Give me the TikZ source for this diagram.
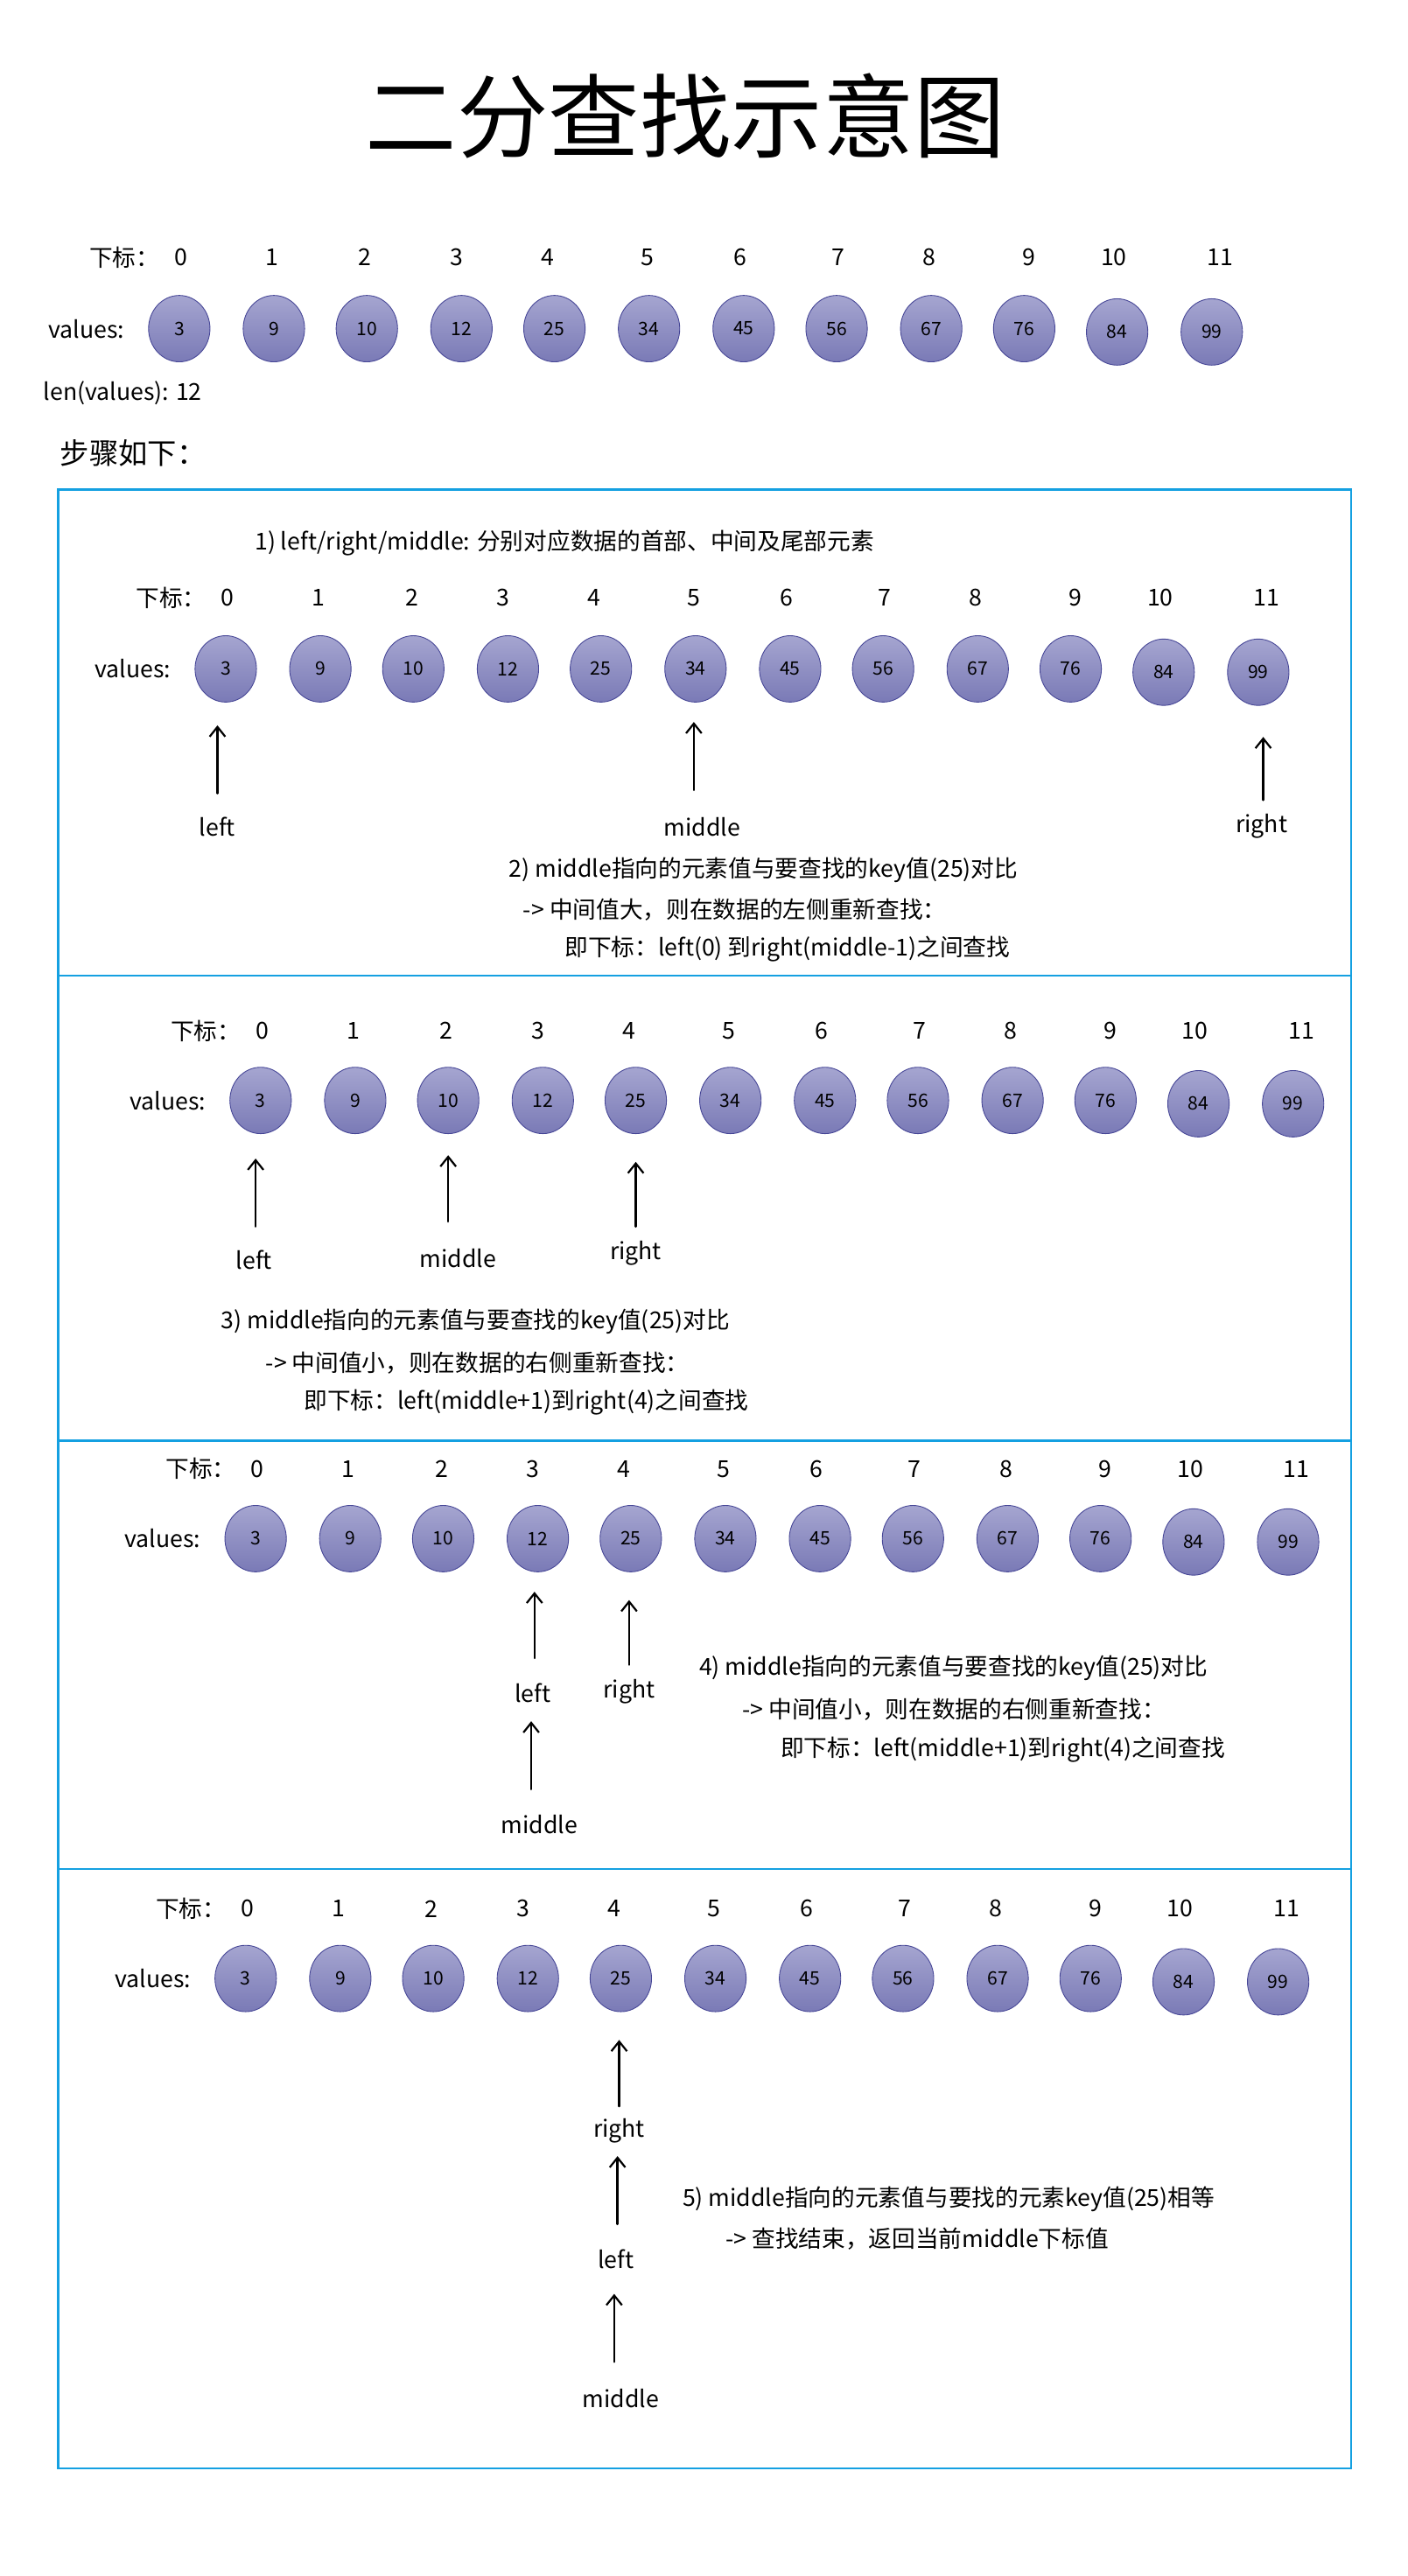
\documentclass[tikz,border=0pt]{standalone}
\usepackage{fontspec}
\setmainfont{Noto Sans CJK SC}
\usetikzlibrary{shapes.geometric,arrows.meta}
\definecolor{boxc}{RGB}{20,160,225}
\definecolor{ctop}{RGB}{165,165,208}
\definecolor{cbot}{RGB}{122,122,182}
\definecolor{cdraw}{RGB}{70,70,150}
\tikzset{
 val/.style={ellipse,draw=cdraw,top color=ctop,bottom color=cbot,minimum width=37*0.03cm,minimum height=40*0.03cm,inner sep=0pt,font=\fontsize{9.5}{12}\selectfont},
 lab/.style={font=\fontsize{12}{15}\selectfont,inner sep=0pt},
 up/.style={-{Straight Barb[length=5pt,width=8pt,line width=1pt]},line width=1.1pt,line cap=round},
}
\newcommand\myrow[4]{%
 \node[lab] (#1k) at (#2+103,#3) {下标：};
 \node[lab] (#1v) at (#2+80,#4) {values:};
 \foreach \i/\xi/\xc/\v/\dy in {0/137/136/3/0,1/192/193/9/0,2/248/249/10/0,3/303/306/12/0,4/358/362/25/0,5/418/419/34/0,6/474/476/45/0,7/533/532/56/0,8/588/589/67/0,9/648/645/76/0,10/699/701/84/2,11/763/758/99/2}{
  \node[lab] (#1i\i) at (#2+\xi,#3) {\i};
  \node[val] (#1c\i) at (#2+\xc,#4+\dy) {\v};
 }}
\begin{document}
\begin{tikzpicture}[x=0.03cm,y=-0.03cm]
\useasboundingbox (0,0) rectangle (848,1552);
\node[font=\fontsize{47}{56}\selectfont,inner sep=0pt] (title) at (413,70) {二分查找示意图};
\myrow{t}{-28}{155}{198}
\node[lab,anchor=west] (len) at (26,237) {len(values): 12};
\node[lab,anchor=west,font=\fontsize{15}{18}\selectfont] (steps) at (36,273) {步骤如下：};
\draw[boxc,line width=1pt] (35,295) rectangle (814,1487);
\foreach \y in {588,868,1126} \draw[boxc,line width=1pt] (35,\y) -- (814,\y);
% section 1
\node[lab] (t1) at (340,327) {1) left/right/middle: 分别对应数据的首部、中间及尾部元素};
\myrow{a}{0}{360}{403}
\node[lab] (aL) at (131,498) {left};
\node[lab] (aM) at (423,498) {middle};
\node[lab] (aR) at (760,498) {right};
\coordinate (aLt) at (131,437); \coordinate (aMt) at (418,435); \coordinate (aRt) at (761,444);
\draw[up] (131,478) -- (aLt); \draw[up] (418,476) -- (aMt); \draw[up] (761,482) -- (aRt);
\node[lab] (t2) at (460,524) {2) middle指向的元素值与要查找的key值(25)对比};
\node[lab,anchor=west] (t2b) at (315,548) {-> 中间值大，则在数据的左侧重新查找：};
\node[lab,anchor=west] (t2c) at (340,572) {即下标：left(0) 到right(middle-1)之间查找};
% section 2
\myrow{b}{21}{621}{663}
\node[lab] (bL) at (153,759) {left};
\node[lab] (bM) at (276,758) {middle};
\node[lab] (bR) at (383,755) {right};
\coordinate (bLt) at (154,698); \coordinate (bMt) at (270,696); \coordinate (bRt) at (383,700);
\draw[up] (154,739) -- (bLt); \draw[up] (270,736) -- (bMt); \draw[up] (383,739) -- (bRt);
\node[lab,anchor=west] (t3) at (133,796) {3) middle指向的元素值与要查找的key值(25)对比};
\node[lab,anchor=west] (t3b) at (160,821) {-> 中间值小，则在数据的右侧重新查找：};
\node[lab,anchor=west] (t3c) at (183,845) {即下标：left(middle+1)到right(4)之间查找};
% section 3
\myrow{c}{18}{885}{927}
\node[lab] (cL) at (321,1020) {left};
\node[lab] (cR) at (379,1019) {right};
\node[lab] (cM) at (325,1099) {middle};
\coordinate (cLt) at (322,959); \coordinate (cRt) at (379,964); \coordinate (cMt) at (320,1037);
\draw[up] (322,999) -- (cLt); \draw[up] (379,1003) -- (cRt); \draw[up] (320,1078) -- (cMt);
\node[lab,anchor=west] (t4) at (421,1005) {4) middle指向的元素值与要查找的key值(25)对比};
\node[lab,anchor=west] (t4b) at (447,1030) {-> 中间值小，则在数据的右侧重新查找：};
\node[lab,anchor=west] (t4c) at (470,1054) {即下标：left(middle+1)到right(4)之间查找};
% section 4
\myrow{d}{12}{1150}{1192}
\node[lab] (dR) at (373,1284) {right};
\node[lab] (dL) at (371,1361) {left};
\node[lab] (dM) at (374,1445) {middle};
\coordinate (dRt) at (373,1229); \coordinate (dLt) at (372,1299); \coordinate (dMt) at (370,1382);
\draw[up] (373,1269) -- (dRt); \draw[up] (372,1340) -- (dLt); \draw[up] (370,1423) -- (dMt);
\node[lab,anchor=west] (t5) at (411,1325) {5) middle指向的元素值与要找的元素key值(25)相等};
\node[lab,anchor=west] (t5b) at (437,1349) {-> 查找结束，返回当前middle下标值};
\end{tikzpicture}
\end{document}
